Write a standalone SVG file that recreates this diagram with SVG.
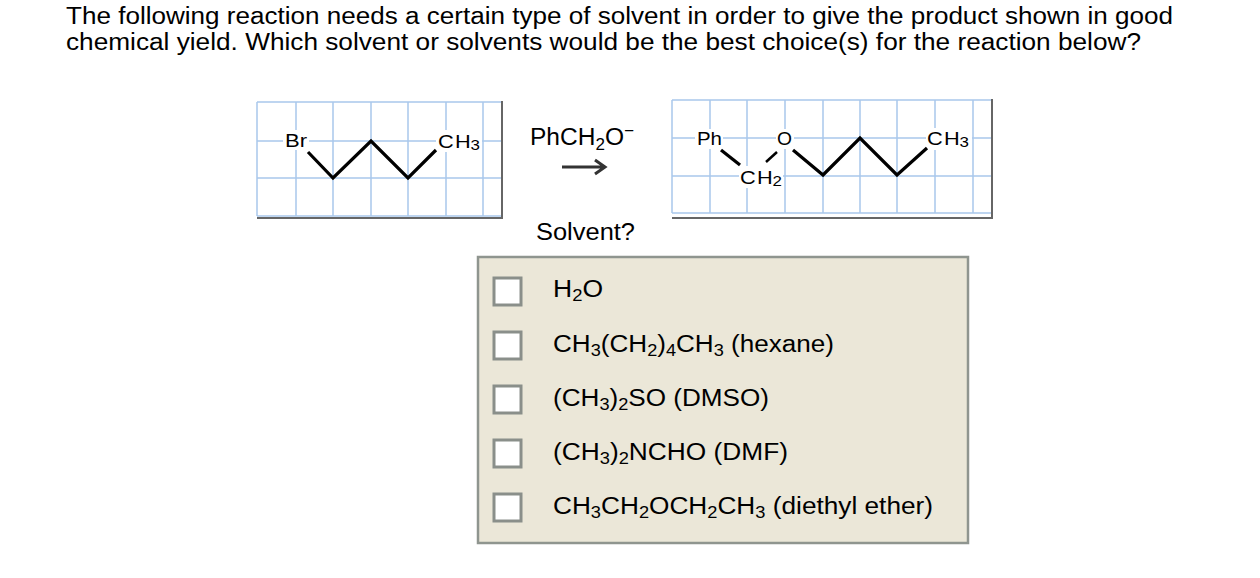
<svg xmlns="http://www.w3.org/2000/svg" width="1260" height="578" viewBox="0 0 1260 578">
<style>
text{font-family:"Liberation Sans",Arial,sans-serif;fill:#000}
.t{font-size:23px}
.m{font-size:18px}
.g{stroke:#a9c8ec;stroke-width:1.5;fill:none}
.b{stroke:#000;stroke-width:3.2;fill:none;stroke-linejoin:miter}
.cb{fill:#fff;stroke:#8a8f8a;stroke-width:3}
</style>
<rect width="1260" height="578" fill="#fff"/>
<text class="t" x="66" y="24" textLength="1107" lengthAdjust="spacingAndGlyphs">The following reaction needs a certain type of solvent in order to give the product shown in good</text>
<text class="t" x="66" y="50" textLength="1075" lengthAdjust="spacingAndGlyphs">chemical yield.  Which solvent or solvents would be the best choice(s) for the reaction below?</text>
<g id="reactant">
<path class="g" d="M257,102H502M257,141H502M257,178H502M257,216H502M257,102V216M296,102V216M333,102V216M371,102V216M408,102V216M446,102V216M483,102V216"/>
<path d="M502,101V218H257" stroke="#666" stroke-width="2" fill="none"/>
<rect x="283" y="130" width="26" height="20" fill="#fff"/>
<rect x="436" y="130" width="46" height="22" fill="#fff"/>
<path class="b" d="M308,152L333,178L371,141L408,178L436,150"/>
<text class="m" x="285" y="147" textLength="22" lengthAdjust="spacingAndGlyphs">Br</text>
<text class="m" x="438" y="148" textLength="42" lengthAdjust="spacingAndGlyphs">C<tspan dx="1">H</tspan><tspan font-size="14" dy="2">3</tspan></text>
</g>
<g id="reagent">
<text class="t" x="530" y="145" textLength="104" lengthAdjust="spacingAndGlyphs">PhCH<tspan font-size="16" dy="5">2</tspan><tspan dy="-5">O</tspan><tspan font-size="16" dy="-9">−</tspan></text>
<text class="t" x="536" y="240" textLength="99" lengthAdjust="spacingAndGlyphs">Solvent?</text>
</g>
<g id="connectors">
<path d="M562,167H604M595,160L605,167L595,174" stroke="#333" stroke-width="3" fill="none"/>
</g>
<g id="product">
<path class="g" d="M672,100H992M672,138H992M672,176H992M672,213H992M672,100V213M710,100V213M747,100V213M785,100V213M823,100V213M860,100V213M897,100V213M935,100V213M973,100V213"/>
<path d="M992,99V218H672" stroke="#666" stroke-width="2" fill="none"/>
<rect x="695" y="129" width="28" height="20" fill="#fff"/>
<rect x="776" y="129" width="18" height="20" fill="#fff"/>
<rect x="739" y="166" width="44" height="22" fill="#fff"/>
<rect x="926" y="128" width="46" height="22" fill="#fff"/>
<path class="b" d="M721,150L740,165"/>
<path d="M766,162L777,152" stroke="#000" stroke-width="2.5"/>
<path class="b" d="M793,150L823,175L860,138L897,175L927,148"/>
<text class="m" x="697" y="145" textLength="25" lengthAdjust="spacingAndGlyphs">Ph</text>
<text class="m" x="777" y="145" textLength="15" lengthAdjust="spacingAndGlyphs">O</text>
<text class="m" x="740" y="184" textLength="42" lengthAdjust="spacingAndGlyphs">C<tspan dx="1">H</tspan><tspan font-size="14" dy="2">2</tspan></text>
<text class="m" x="927" y="145" textLength="42" lengthAdjust="spacingAndGlyphs">C<tspan dx="1">H</tspan><tspan font-size="14" dy="2">3</tspan></text>
</g>
<g id="options">
<rect x="478" y="257" width="490" height="286" fill="#ebe7d8" stroke="#8f958f" stroke-width="2.5"/>
<rect class="cb" x="494" y="278" width="27" height="27"/>
<rect class="cb" x="494" y="332" width="27" height="27"/>
<rect class="cb" x="494" y="386" width="27" height="27"/>
<rect class="cb" x="494" y="440" width="27" height="27"/>
<rect class="cb" x="494" y="494" width="27" height="27"/>
<text class="t" x="553" y="297" textLength="50" lengthAdjust="spacingAndGlyphs">H<tspan font-size="16" dy="4">2</tspan><tspan dy="-4">O</tspan></text>
<text class="t" x="553" y="352" textLength="281" lengthAdjust="spacingAndGlyphs">CH<tspan font-size="16" dy="4">3</tspan><tspan dy="-4">(CH</tspan><tspan font-size="16" dy="4">2</tspan><tspan dy="-4">)</tspan><tspan font-size="16" dy="4">4</tspan><tspan dy="-4">CH</tspan><tspan font-size="16" dy="4">3</tspan><tspan dy="-4"> (hexane)</tspan></text>
<text class="t" x="553" y="406" textLength="216" lengthAdjust="spacingAndGlyphs">(CH<tspan font-size="16" dy="4">3</tspan><tspan dy="-4">)</tspan><tspan font-size="16" dy="4">2</tspan><tspan dy="-4">SO (DMSO)</tspan></text>
<text class="t" x="553" y="460" textLength="235" lengthAdjust="spacingAndGlyphs">(CH<tspan font-size="16" dy="4">3</tspan><tspan dy="-4">)</tspan><tspan font-size="16" dy="4">2</tspan><tspan dy="-4">NCHO (DMF)</tspan></text>
<text class="t" x="553" y="514" textLength="380" lengthAdjust="spacingAndGlyphs">CH<tspan font-size="16" dy="4">3</tspan><tspan dy="-4">CH</tspan><tspan font-size="16" dy="4">2</tspan><tspan dy="-4">OCH</tspan><tspan font-size="16" dy="4">2</tspan><tspan dy="-4">CH</tspan><tspan font-size="16" dy="4">3</tspan><tspan dy="-4"> (diethyl ether)</tspan></text>
</g>
</svg>
